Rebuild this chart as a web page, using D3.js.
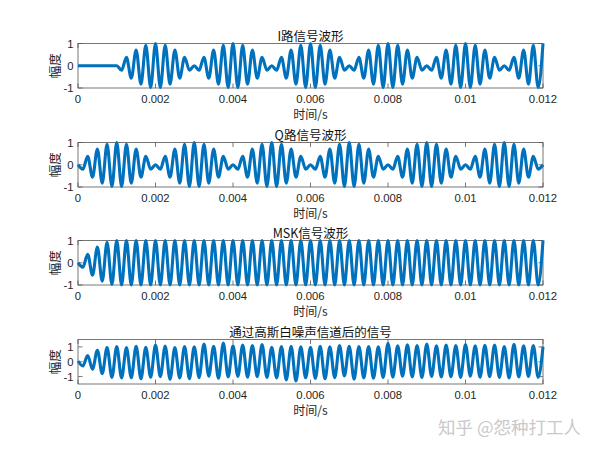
<!DOCTYPE html>
<html>
<head>
<meta charset="utf-8">
<script src="https://cdn.jsdelivr.net/npm/d3@7"></script>
<style>
  html, body { margin: 0; padding: 0; background: #fff; }
  svg { display: block; }
</style>
</head>
<body>
<svg id="chart" width="600" height="450"></svg>
<script>
// ---------------- data ----------------
const titles = ["I路信号波形", "Q路信号波形", "MSK信号波形", "通过高斯白噪声信道后的信号"];
const xTicks = [0, 0.002, 0.004, 0.006, 0.008, 0.01, 0.012];
const xTickLabels = ["0", "0.002", "0.004", "0.006", "0.008", "0.01", "0.012"];
const yTicks = [-1, 0, 1];
const yTickLabels = ["-1", "0", "1"];
const yDomains = [[-1, 1], [-1, 1], [-1, 1], [-1.5, 1.5]];
const tEnd = 0.012;
const xLabel = "时间/s";
const yLabel = "幅度";
const watermark = "知乎 @怨种打工人";

// successive carrier extrema (half-cycles), evenly spaced over 0 … 0.012 s
const iPeaks = [
  0, 0, 0, 0, 0, 0, 0, 0,
  0.00, -0.20, 0.38, -0.56, 0.71, -0.83, 0.92, -0.98, 1.00, -0.98, 0.92, -0.83, 0.71, -0.56, 0.38, -0.20,
  0.00, -0.20, 0.38, -0.56, 0.71, -0.83, 0.92, -0.98, 1.00, -0.98, 0.92, -0.83, 0.71, -0.56, 0.38, -0.20,
  0.00, -0.20, 0.38, -0.56, 0.71, -0.83, 0.92, -0.98, 1.00, -0.98, 0.92, -0.83, 0.71, -0.56, 0.38, -0.20,
  0.00, -0.20, 0.38, -0.56, 0.71, -0.83, 0.92, -0.98, 1.00, -0.98, 0.92, -0.83, 0.71, -0.56, 0.38, -0.20,
  0.00, -0.20, 0.38, -0.56, 0.71, -0.83, 0.92, -0.98, 1.00, -0.98, 0.92, -0.83, 0.71, -0.56, 0.38, -0.20,
  0.00, -0.20, 0.38, -0.56, 0.71, -0.83, 0.92, -0.98, 1.00
];
const qPeaks = [
  0.00, -0.20, 0.38, -0.56, 0.71, -0.83, 0.92, -0.98, 1.00, -0.98, 0.92, -0.83, 0.71, -0.56, 0.38, -0.20,
  0.00, -0.20, 0.38, -0.56, 0.71, -0.83, 0.92, -0.98, 1.00, -0.98, 0.92, -0.83, 0.71, -0.56, 0.38, -0.20,
  0.00, -0.20, 0.38, -0.56, 0.71, -0.83, 0.92, -0.98, 1.00, -0.98, 0.92, -0.83, 0.71, -0.56, 0.38, -0.20,
  0.00, -0.20, 0.38, -0.56, 0.71, -0.83, 0.92, -0.98, 1.00, -0.98, 0.92, -0.83, 0.71, -0.56, 0.38, -0.20,
  0.00, -0.20, 0.38, -0.56, 0.71, -0.83, 0.92, -0.98, 1.00, -0.98, 0.92, -0.83, 0.71, -0.56, 0.38, -0.20,
  0.00, -0.20, 0.38, -0.56, 0.71, -0.83, 0.92, -0.98, 1.00, -0.98, 0.92, -0.83, 0.71, -0.56, 0.38, -0.20,
  0.00
];
const mskPeaks = [
  0.00, -0.20, 0.38, -0.56, 0.71, -0.83, 0.92, -0.98,
  1, -1, 1, -1, 1, -1, 1, -1, 1, -1, 1, -1, 1, -1, 1, -1,
  1, -1, 1, -1, 1, -1, 1, -1, 1, -1, 1, -1, 1, -1, 1, -1,
  1, -1, 1, -1, 1, -1, 1, -1, 1, -1, 1, -1, 1, -1, 1, -1,
  1, -1, 1, -1, 1, -1, 1, -1, 1, -1, 1, -1, 1, -1, 1, -1,
  1, -1, 1, -1, 1, -1, 1, -1, 1, -1, 1, -1, 1, -1, 1, -1,
  1, -1, 1, -1, 1, -1, 1, -1, 1
];
const noisyPeaks = [
  0.05, -0.28, 0.42, -0.50, 0.78, -0.80, 0.95, -1.05,
  1.02, -1.10, 0.95, -1.08, 1.05, -1.15, 0.98, -1.04, 1.12, -1.00,
  1.06, -1.18, 0.96, -1.09, 1.03, -1.14, 1.01, -1.07, 1.20, -0.97,
  1.05, -1.11, 1.26, -1.02, 1.08, -0.99, 1.13, -1.04, 1.10, -1.00,
  1.16, -1.06, 0.98, -1.09, 1.03, -1.22, 1.05, -1.30, 1.01, -1.08,
  0.97, -1.12, 1.04, -1.15, 1.00, -1.07, 1.10, -0.96, 1.05, -1.18,
  1.02, -1.09, 1.03, -1.11, 1.00, -1.06, 1.25, -1.04, 1.08, -0.98,
  1.14, -1.02, 1.10, -1.06, 1.20, -0.99, 1.07, -1.03, 1.12, -1.01,
  1.09, -1.05, 1.16, -0.97, 1.08, -1.04, 1.11, -1.00, 1.13, -1.06,
  1.02, -1.09, 1.18, -1.03, 1.07, -0.99, 1.10, -1.05, 1.01
];
const seriesList = [iPeaks, qPeaks, mskPeaks, noisyPeaks];

// ---------------- layout ----------------
const svg = d3.select("#chart");
const left = 78, right = 543;
const tops = [43.5, 142.5, 240.5, 339.5];
const plotH = 44.5;
const textColor = "#262626";
const lineColor = "#0072BD";
const latin = "'Liberation Sans', Arial, Helvetica, sans-serif";
const cjk = "'Noto Sans CJK SC', 'Noto Sans', sans-serif";
const tickLen = 4.5;

const x = d3.scaleLinear().domain([0, tEnd]).range([left, right]);

seriesList.forEach((vals, p) => {
  const top = tops[p], bottom = top + plotH;
  const y = d3.scaleLinear().domain(yDomains[p]).range([bottom, top]);
  const idx = d3.scaleLinear().domain([0, vals.length - 1]).range([0, tEnd]);
  const g = svg.append("g");

  // box
  g.append("rect").attr("x", left).attr("y", top).attr("width", right - left).attr("height", plotH)
    .attr("fill", "#fff").attr("stroke", "#555").attr("stroke-width", 0.8);

  // x ticks (bottom & top, inward)
  xTicks.forEach((t, i) => {
    const px = x(t);
    g.append("line").attr("x1", px).attr("x2", px).attr("y1", bottom).attr("y2", bottom - tickLen)
      .attr("stroke", "#555").attr("stroke-width", 0.8);
    g.append("line").attr("x1", px).attr("x2", px).attr("y1", top).attr("y2", top + tickLen)
      .attr("stroke", "#555").attr("stroke-width", 0.8);
    g.append("text").attr("x", px).attr("y", bottom + 15).attr("text-anchor", "middle")
      .attr("font-family", latin).attr("font-size", 11.3).attr("fill", textColor).text(xTickLabels[i]);
  });
  // y ticks (left & right, inward)
  yTicks.forEach((v, i) => {
    const py = y(v);
    g.append("line").attr("x1", left).attr("x2", left + tickLen).attr("y1", py).attr("y2", py)
      .attr("stroke", "#555").attr("stroke-width", 0.8);
    g.append("line").attr("x1", right).attr("x2", right - tickLen).attr("y1", py).attr("y2", py)
      .attr("stroke", "#555").attr("stroke-width", 0.8);
    g.append("text").attr("x", left - 4.5).attr("y", py + 4).attr("text-anchor", "end")
      .attr("font-family", latin).attr("font-size", 11.3).attr("fill", textColor).text(yTickLabels[i]);
  });

  // waveform
  const line = d3.line()
    .x((d, i) => x(idx(i)))
    .y(d => y(d))
    .curve(d3.curveMonotoneX);
  g.append("path").datum(vals).attr("d", line).attr("fill", "none")
    .attr("stroke", lineColor).attr("stroke-width", 3.1).attr("stroke-linejoin", "round");

  // title
  g.append("text").attr("x", (left + right) / 2).attr("y", top - 3).attr("text-anchor", "middle")
    .attr("font-family", cjk).attr("font-size", 12.5).attr("fill", "#111").text(titles[p]);
  // x label
  g.append("text").attr("x", (left + right) / 2).attr("y", bottom + 30.5).attr("text-anchor", "middle")
    .attr("font-family", cjk).attr("font-size", 12).attr("fill", textColor).text(xLabel);
  // y label
  g.append("text").attr("transform", `translate(${left - 18},${(top + bottom) / 2}) rotate(-90)`)
    .attr("text-anchor", "middle").attr("font-family", cjk).attr("font-size", 12.5)
    .attr("fill", textColor).text(yLabel);
});

// watermark
svg.append("text").attr("x", 438).attr("y", 434).attr("font-family", cjk).attr("font-size", 17.5)
  .attr("fill", "#c9c9c9").text(watermark);
</script>
</body>
</html>
